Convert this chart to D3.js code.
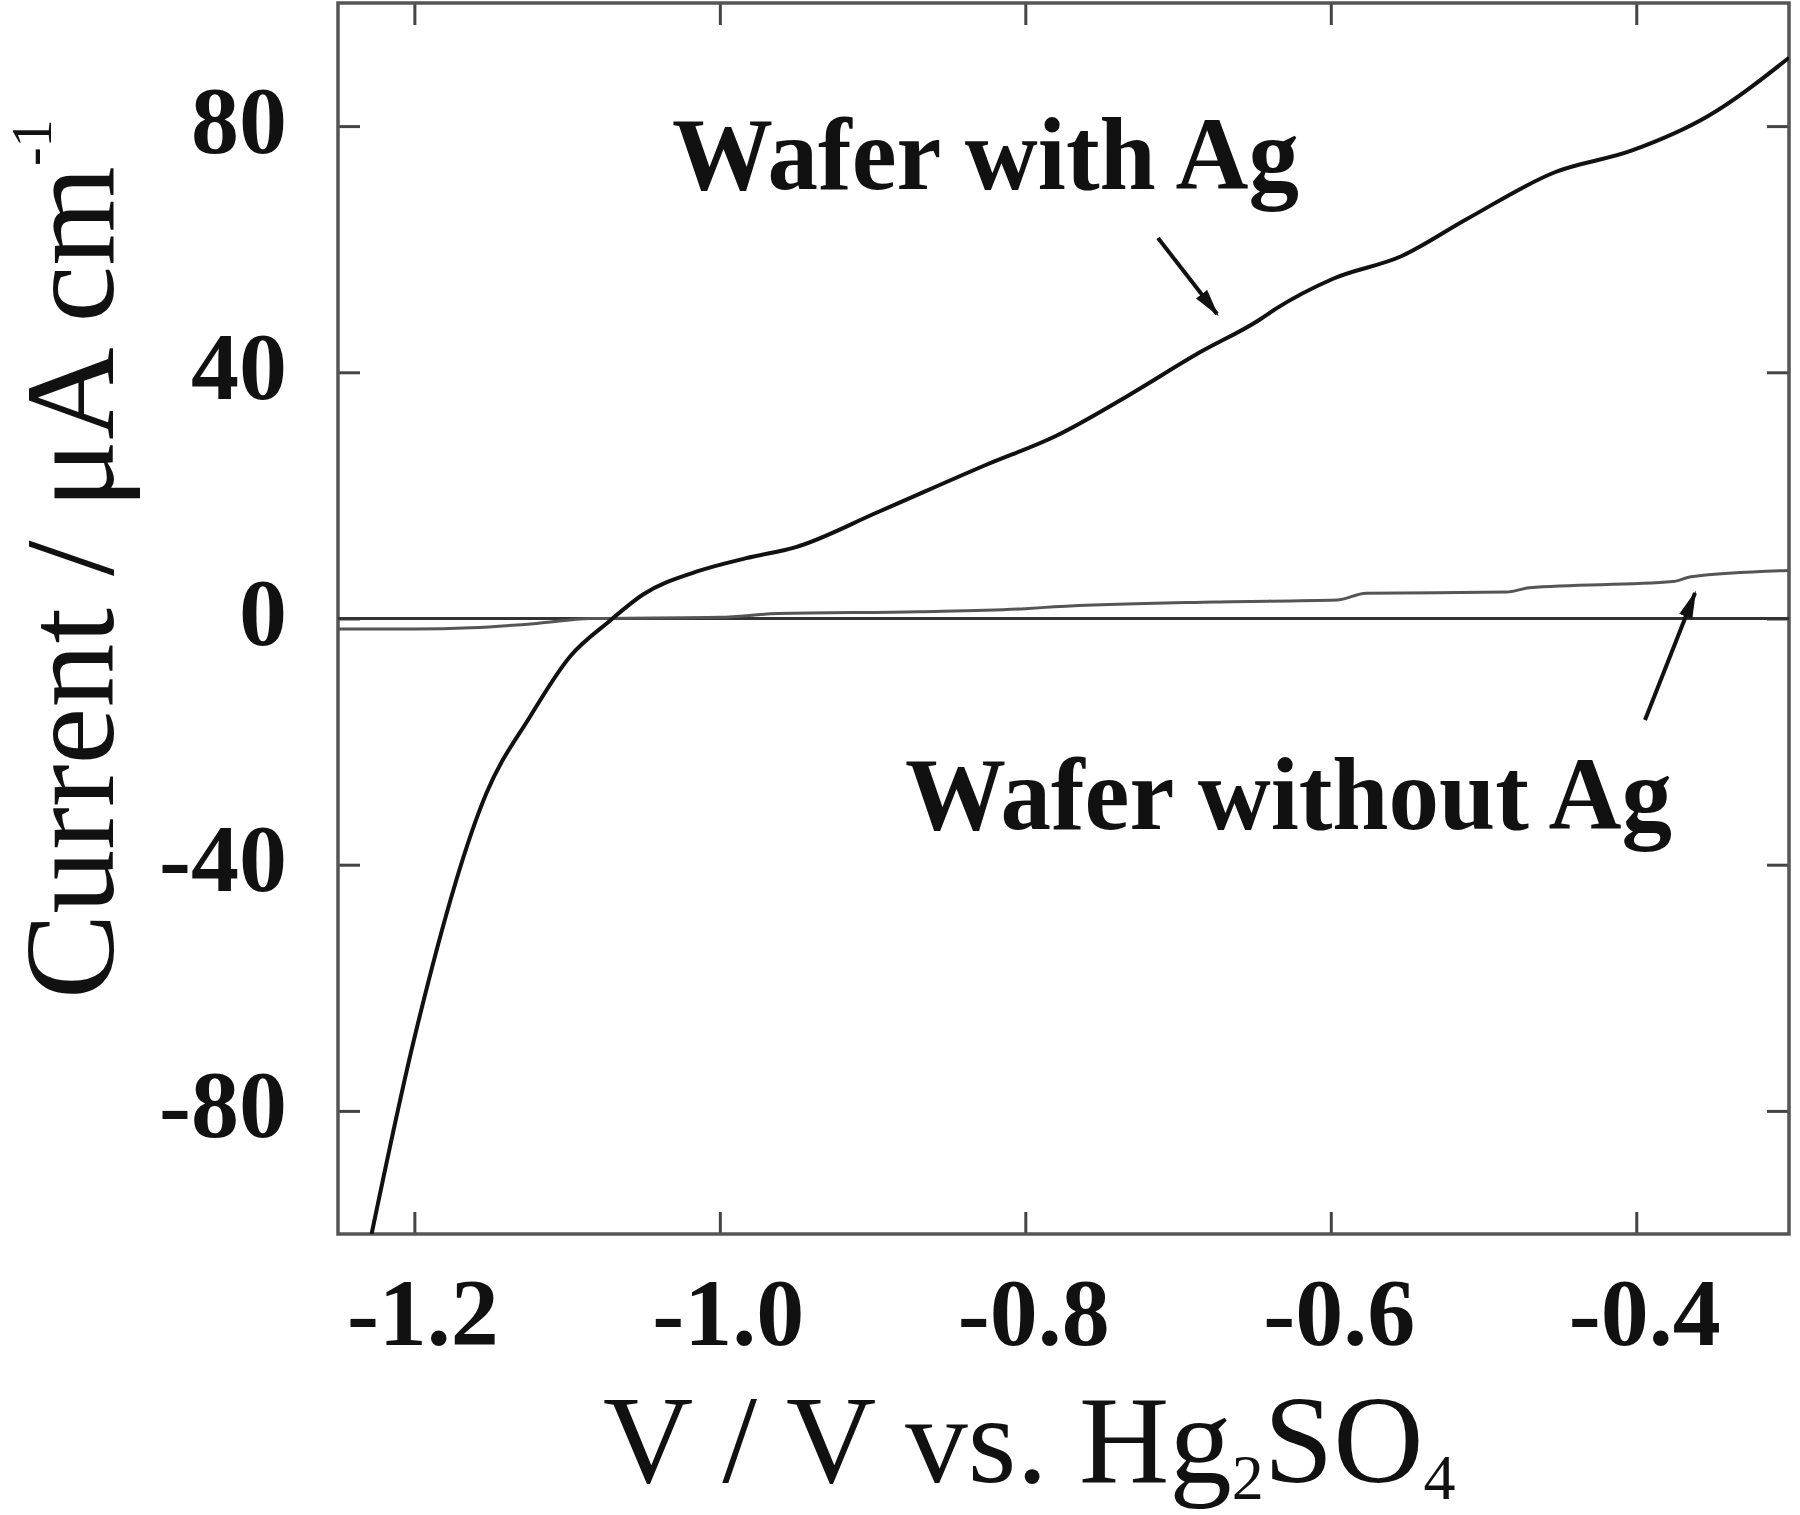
<!DOCTYPE html>
<html>
<head>
<meta charset="utf-8">
<script src="https://cdn.jsdelivr.net/npm/d3@7"></script>
<style>
  body { margin: 0; background: #fff; }
  svg { display: block; }
</style>
</head>
<body>
<div id="vue"></div>
<script>
// données
var withAgV = [-1.228, -1.2007, -1.1527, -1.1244, -1.0982, -1.0721, -1.0503, -1.0154, -0.9827, -0.9502, -0.8964, -0.8263, -0.7797, -0.7328, -0.686, -0.6469, -0.6361, -0.5985, -0.5535, -0.5109, -0.4533, -0.4032, -0.3532, -0.300];
var withAgI = [-100, -68.9, -28.3, -16.0, -6.2, -0.4, 3.9, 7.6, 9.8, 11.6, 17.3, 24.9, 29.7, 36.2, 43.2, 48.5, 50.3, 55.2, 58.9, 64.9, 72.5, 76.0, 81.6, 91.1];

var withoutAgV = [-1.25, -1.20, -1.163, -1.12, -1.085, -1.0, -0.962, -0.87, -0.80, -0.781, -0.676, -0.596, -0.577, -0.485, -0.47, -0.376, -0.364, -0.300];
var withoutAgI = [-1.7, -1.7, -1.5, -0.8, 0, 0.2, 0.8, 1.1, 1.6, 1.9, 2.7, 3.0, 4.1, 4.3, 5.0, 6.0, 6.8, 7.8];

var xTicks = [-1.2, -1.0, -0.8, -0.6, -0.4];
var xTickLabels = ["-1.2", "-1.0", "-0.8", "-0.6", "-0.4"];
var yTicks = [80, 40, 0, -40, -80];
var yTickLabels = ["80", "40", "0", "-40", "-80"];

var width = 1800, height = 1515;
// attention : "top" est réservé par window
var pLeft = 338, pRight = 1789, pTop = 3, pBottom = 1234;
var tickLen = 22;
var serif = "'Liberation Serif', 'Times New Roman', serif";

var svg = d3.select("#vue").append("svg")
  .attr("width", width)
  .attr("height", height)
  .style("font-family", serif);

var x = d3.scaleLinear().domain([-1.25, -0.30]).range([pLeft, pRight]);
var y = d3.scaleLinear().domain([-100, 100]).range([pBottom, pTop]);

svg.append("clipPath").attr("id", "plot")
  .append("rect")
  .attr("x", pLeft).attr("y", pTop)
  .attr("width", pRight - pLeft).attr("height", pBottom - pTop);

// axes, graduations vers l'intérieur sur les quatre côtés
var axB = svg.append("g").attr("transform", "translate(0," + pBottom + ")")
  .call(d3.axisBottom(x).tickValues(xTicks).tickSize(-tickLen)
    .tickFormat(function (d, i) { return xTickLabels[i]; }));
axB.selectAll("text").attr("y", 111).attr("dy", 0).attr("x", 8);

var axT = svg.append("g").attr("transform", "translate(0," + pTop + ")")
  .call(d3.axisTop(x).tickValues(xTicks).tickSize(-tickLen).tickFormat(""));

var axL = svg.append("g").attr("transform", "translate(" + pLeft + ",0)")
  .call(d3.axisLeft(y).tickValues(yTicks).tickSize(-tickLen)
    .tickFormat(function (d, i) { return yTickLabels[i]; }));
axL.selectAll("text").attr("x", -51).attr("dy", 0).attr("y", 26);

var axR = svg.append("g").attr("transform", "translate(" + pRight + ",0)")
  .call(d3.axisRight(y).tickValues(yTicks).tickSize(-tickLen).tickFormat(""));

svg.selectAll(".domain").remove();
svg.selectAll(".tick line").attr("stroke", "#444").attr("stroke-width", 3);
svg.selectAll(".tick text")
  .attr("fill", "#111")
  .style("font-family", serif)
  .style("font-size", "96px")
  .style("font-weight", "bold");

// cadre
svg.append("rect")
  .attr("x", pLeft).attr("y", pTop)
  .attr("width", pRight - pLeft).attr("height", pBottom - pTop)
  .attr("fill", "none").attr("stroke", "#555").attr("stroke-width", 3.5);

// ligne du zéro
svg.append("line")
  .attr("x1", x(-1.25)).attr("x2", x(-0.30))
  .attr("y1", y(0)).attr("y2", y(0))
  .attr("stroke", "#333").attr("stroke-width", 3);

var line = d3.line()
  .x(function (d) { return x(d[0]); })
  .y(function (d) { return y(d[1]); })
  .curve(d3.curveMonotoneX);

var curves = svg.append("g").attr("clip-path", "url(#plot)");

curves.append("path")
  .datum(d3.zip(withoutAgV, withoutAgI))
  .attr("d", line)
  .attr("fill", "none").attr("stroke", "#555").attr("stroke-width", 3);

curves.append("path")
  .datum(d3.zip(withAgV, withAgI))
  .attr("d", line)
  .attr("fill", "none").attr("stroke", "#111").attr("stroke-width", 4);

// flèches
svg.append("defs").append("marker")
  .attr("id", "tete")
  .attr("viewBox", "0 0 10 5")
  .attr("refX", 9).attr("refY", 2.5)
  .attr("markerWidth", 7).attr("markerHeight", 3.5)
  .attr("markerUnits", "strokeWidth")
  .attr("orient", "auto")
  .append("path").attr("d", "M0,0 L10,2.5 L0,5 Z").attr("fill", "#111");

function fleche(x1, y1, x2, y2) {
  svg.append("line")
    .attr("x1", x1).attr("y1", y1).attr("x2", x2).attr("y2", y2)
    .attr("stroke", "#111").attr("stroke-width", 4)
    .attr("marker-end", "url(#tete)");
}
fleche(1158, 238, 1217, 314);
fleche(1645, 720, 1695, 593);

// étiquettes
svg.append("text")
  .attr("x", 672).attr("y", 189)
  .attr("textLength", 627).attr("lengthAdjust", "spacingAndGlyphs")
  .style("font-size", "104px").style("font-weight", "bold").attr("fill", "#111")
  .text("Wafer with Ag");

svg.append("text")
  .attr("x", 905).attr("y", 829)
  .attr("textLength", 767).attr("lengthAdjust", "spacingAndGlyphs")
  .style("font-size", "104px").style("font-weight", "bold").attr("fill", "#111")
  .text("Wafer without Ag");

// titres des axes
var xt = svg.append("text")
  .attr("x", 603).attr("y", 1482)
  .style("font-size", "125px").attr("fill", "#111");
xt.append("tspan").text("V / V vs. Hg");
xt.append("tspan").attr("dy", 17).style("font-size", "64px").text("2");
xt.append("tspan").attr("dy", -17).text("SO");
xt.append("tspan").attr("dy", 17).style("font-size", "64px").text("4");

var yt = svg.append("text")
  .attr("transform", "translate(113,999) rotate(-90)")
  .style("font-size", "128px").attr("fill", "#111");
yt.append("tspan").text("Current / \u03bcA cm");
yt.append("tspan").attr("dy", -62).style("font-size", "56px").text("-1");
</script>
</body>
</html>
